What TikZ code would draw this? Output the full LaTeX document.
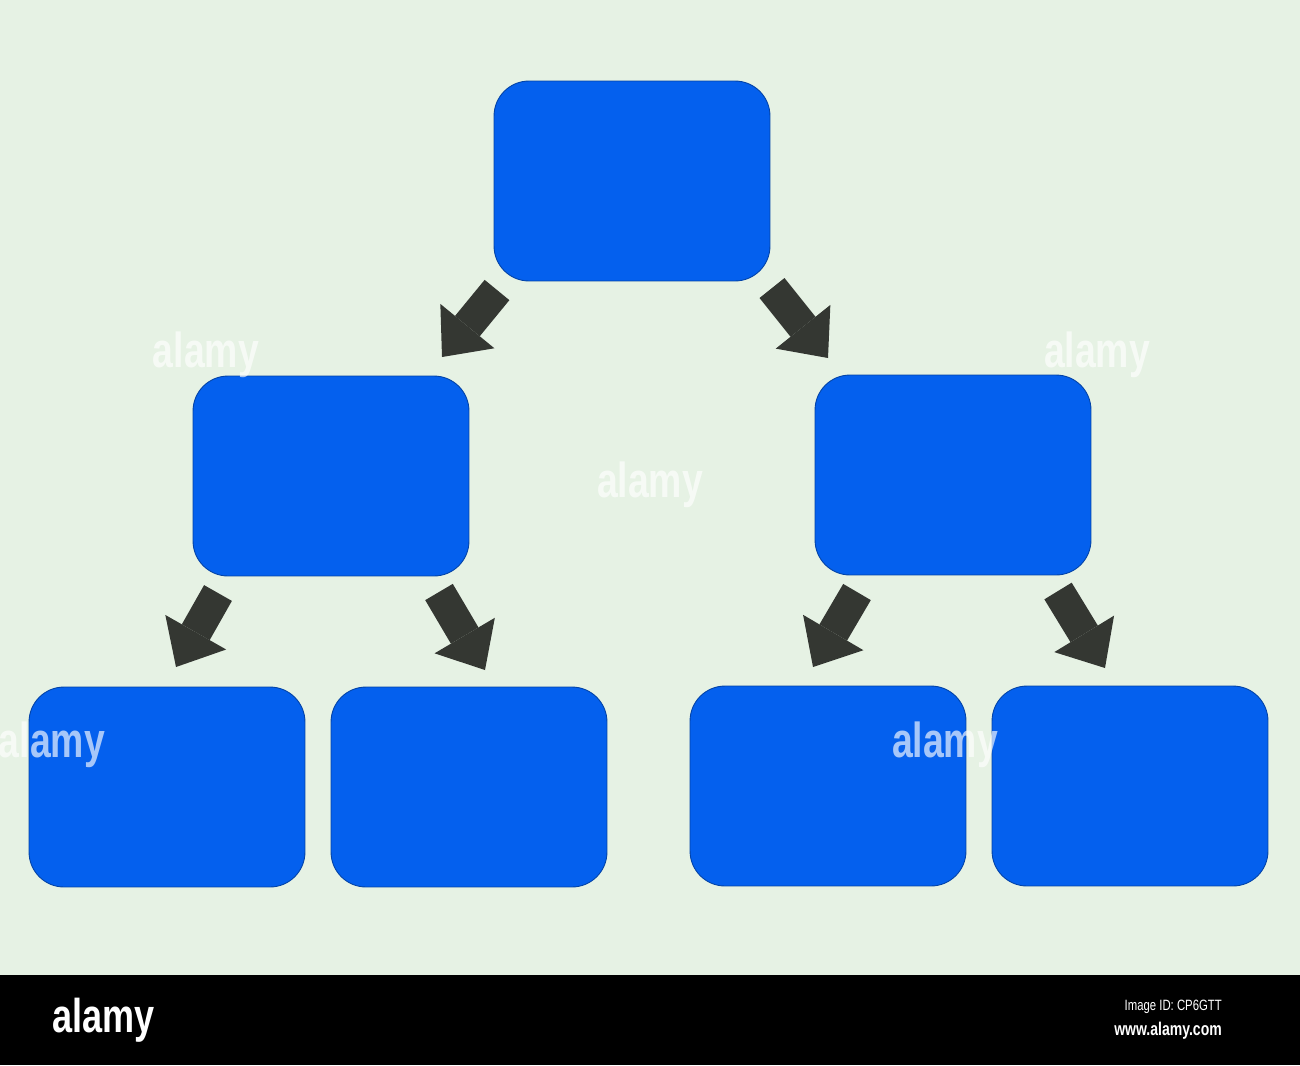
\documentclass[tikz,border=0pt]{standalone}
\usepackage{fontspec}
\usetikzlibrary{arrows.meta}

\newfontfamily\logofont[FakeStretch=0.76]{Liberation Sans}
\definecolor{paper}{RGB}{230,242,228}
\definecolor{boxblue}{RGB}{4,96,238}
\definecolor{arrowgray}{RGB}{52,55,50}

\begin{document}
\begin{tikzpicture}[x=0.02cm,y=-0.02cm,
  chart/.style={rounded corners=0.7cm,fill=boxblue,draw=boxblue!70!black,line width=0.5pt,
    minimum width=5.52cm,minimum height=4cm,inner sep=0pt},
  conn/.style={draw=arrowgray,line width=0.64cm,
    -{Triangle[width=1.4cm,length=0.8cm,line width=0pt,fill=arrowgray]}},
  wmark/.style={white,opacity=0.65,font=\logofont\bfseries\fontsize{28}{28}\selectfont}]

% Page size and background
\useasboundingbox (0,0) rectangle (1300,1065);
\fill[paper] (0,0) rectangle (1300,975);
\fill[black] (0,975) rectangle (1300,1065);

% Boxes of the chart
\node[chart] (root)  at (632,181) {};
\node[chart] (left)  at (331,476) {};
\node[chart] (right) at (953,475) {};
\node[chart] (ll)    at (167,787) {};
\node[chart] (lr)    at (469,787) {};
\node[chart] (rl)    at (828,786) {};
\node[chart] (rr)    at (1130,786) {};

% Tail and tip of each arrow
\coordinate (root-l-s) at (497,290);  \coordinate (root-l-e) at (442,357);
\coordinate (root-r-s) at (772,288);  \coordinate (root-r-e) at (828,358);
\coordinate (left-l-s) at (218,593);  \coordinate (left-l-e) at (176,667);
\coordinate (left-r-s) at (439,592);  \coordinate (left-r-e) at (485,670);
\coordinate (right-l-s) at (857,592); \coordinate (right-l-e) at (813,667);
\coordinate (right-r-s) at (1058,591);\coordinate (right-r-e) at (1105,668);

% Arrows
\draw[conn] (root-l-s) -- (root-l-e);
\draw[conn] (root-r-s) -- (root-r-e);
\draw[conn] (left-l-s) -- (left-l-e);
\draw[conn] (left-r-s) -- (left-r-e);
\draw[conn] (right-l-s) -- (right-l-e);
\draw[conn] (right-r-s) -- (right-r-e);

% Watermarks
\node[wmark] (wm1) at (206,355) {alamy};
\node[wmark] (wm2) at (650,485) {alamy};
\node[wmark] (wm3) at (1097,355) {alamy};
\node[wmark] (wm4) at (52,745) {alamy};
\node[wmark] (wm5) at (945,745) {alamy};

% Banner
\node[anchor=west,white,font=\logofont\bfseries\fontsize{27}{27}\selectfont] (logo) at (46,1020) {alamy};
\node[anchor=east,white,font=\logofont\fontsize{8.5}{9}\selectfont] (imgid) at (1228,1007) {Image ID: CP6GTT};
\node[anchor=east,white,font=\logofont\bfseries\fontsize{10.5}{11}\selectfont] (site) at (1228,1031) {www.alamy.com};

\end{tikzpicture}
\end{document}
